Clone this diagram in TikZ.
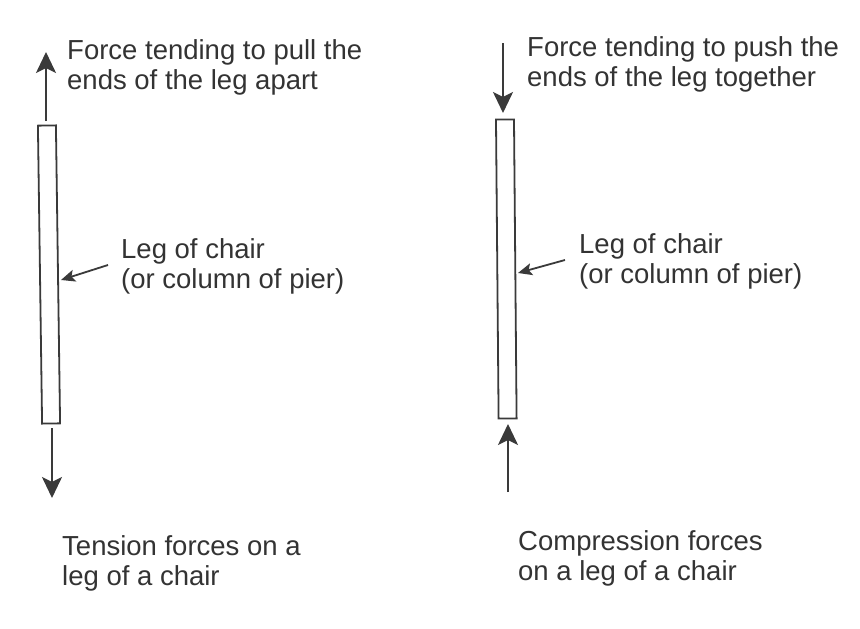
\documentclass[tikz,border=0pt]{standalone}
\usepackage{fontspec}
\setmainfont{Liberation Sans}
\usetikzlibrary{arrows.meta}
\definecolor{ink}{HTML}{3A3A3A}
\definecolor{txt}{HTML}{333333}
\begin{document}
\begin{tikzpicture}[x=1pt,y=-1pt,
  lbl/.style={anchor=base west,inner sep=0pt,align=left,text=txt,
    font=\fontsize{27.5}{30}\selectfont},
  legbar/.style={draw=ink,line width=1.8pt,fill=white,minimum width=18pt,inner sep=0pt},
  force/.style={draw=ink,line width=2pt,-{Stealth[length=21pt,width=20pt,inset=5pt]}},
  pointer/.style={draw=ink,line width=1.8pt,-{Stealth[length=14pt,width=12pt,inset=3pt]}}]
\useasboundingbox[fill=white] (0,0) rectangle (860,629);
% bars
\node[legbar,minimum height=298pt,rotate=0.8] (lbar) at (49,274.5) {};
\node[legbar,minimum height=299pt,rotate=0.5] (rbar) at (506.3,269) {};
% tension arrows
\coordinate (lt1) at (46,121);
\coordinate (lt2) at (46,52);
\coordinate (lb1) at (52,428);
\coordinate (lb2) at (52,498);
\draw[force] (lt1) -- (lt2);
\draw[force] (lb1) -- (lb2);
% compression arrows
\coordinate (rt1) at (503,43);
\coordinate (rt2) at (503,113);
\coordinate (rb1) at (508,492);
\coordinate (rb2) at (508,424);
\draw[force] (rt1) -- (rt2);
\draw[force] (rb1) -- (rb2);
% labels (anchor = baseline of last line)
\node[lbl] (ltop) at (67,89) {Force tending to pull the\\ends of the leg apart};
\node[lbl] (rtop) at (527,86) {Force tending to push the\\ends of the leg together};
\node[lbl] (lleg) at (121,288) {Leg of chair\\(or column of pier)};
\node[lbl] (rleg) at (579,283) {Leg of chair\\(or column of pier)};
\node[lbl] (lcap) at (62,585) {Tension forces on a\\leg of a chair};
\node[lbl] (rcap) at (518,580) {Compression forces\\on a leg of a chair};
% pointers
\coordinate (lp1) at (108,265);
\coordinate (lp2) at (61,280);
\coordinate (rp1) at (565,260);
\coordinate (rp2) at (518,273);
\draw[pointer] (lp1) -- (lp2);
\draw[pointer] (rp1) -- (rp2);
\end{tikzpicture}
\end{document}
